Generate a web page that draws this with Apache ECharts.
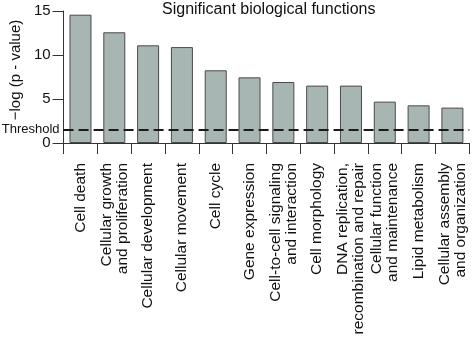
<!DOCTYPE html>
<html>
<head>
<meta charset="utf-8">
<script src="https://cdn.jsdelivr.net/npm/echarts@6/dist/echarts.min.js"></script>
<style>html,body{margin:0;padding:0;background:#fff}#c{width:474px;height:338px}</style>
</head>
<body>
<div id="c"></div>
<script>
const categories = [
  "Cell death",
  "Cellular growth\nand proliferation",
  "Cellular development",
  "Cellular movement",
  "Cell cycle",
  "Gene expression",
  "Cell-to-cell signaling\nand interaction",
  "Cell morphology",
  "DNA replication,\nrecombination and repair",
  "Cellular function\nand maintenance",
  "Lipid metabolism",
  "Cellular assembly\nand organization"
];
const values = [14.58, 12.58, 11.1, 10.9, 8.26, 7.46, 6.93, 6.52, 6.52, 4.7, 4.28, 4.02];
const threshold = 1.56;
const titleText = "Significant biological functions";
const yName = "\u2212log (p - value)";

const FONT = "Liberation Sans, Arial, sans-serif";
const chart = echarts.init(document.getElementById('c'), null, {renderer: 'canvas'});
chart.setOption({
  animation: false,
  backgroundColor: '#fff',
  title: {
    text: titleText,
    left: 157,
    top: -3,
    textStyle: {fontFamily: FONT, fontSize: 16, fontWeight: 'normal', color: '#111'}
  },
  grid: {left: 59.3, right: 4.7, top: 11, bottom: 195, containLabel: false},
  xAxis: {
    type: 'category',
    data: categories,
    axisLine: {show: true, lineStyle: {color: '#333', width: 1}},
    axisTick: {show: true, length: 11, alignWithLabel: false, lineStyle: {color: '#333'}},
    axisLabel: {rotate: 90, interval: 0, margin: 20, fontFamily: FONT, fontSize: 15.5, color: '#111', lineHeight: 16}
  },
  yAxis: {
    type: 'value',
    min: 0, max: 15, interval: 5,
    name: yName,
    nameLocation: 'middle',
    nameGap: 35,
    nameTextStyle: {fontFamily: FONT, fontSize: 15, color: '#111', padding: [0, 0, 0, 14]},
    axisLine: {show: true, lineStyle: {color: '#333', width: 1}},
    axisTick: {show: true, length: 11, lineStyle: {color: '#333'}},
    axisLabel: {margin: 13, fontFamily: FONT, fontSize: 15, color: '#111'},
    splitLine: {show: false}
  },
  series: [{
    type: 'bar',
    data: values,
    barWidth: 22,
    itemStyle: {color: '#a8b6b3', borderColor: '#4a4a4a', borderWidth: 1},
    markLine: {
      silent: true,
      symbol: 'none',
      data: [{yAxis: threshold}],
      lineStyle: {color: '#1a1a1a', width: 2, type: [10, 5]},
      label: {show: true, position: 'start', distance: 4, formatter: 'Threshold', fontFamily: FONT, fontSize: 13, color: '#111'}
    }
  }]
});
</script>
</body>
</html>
